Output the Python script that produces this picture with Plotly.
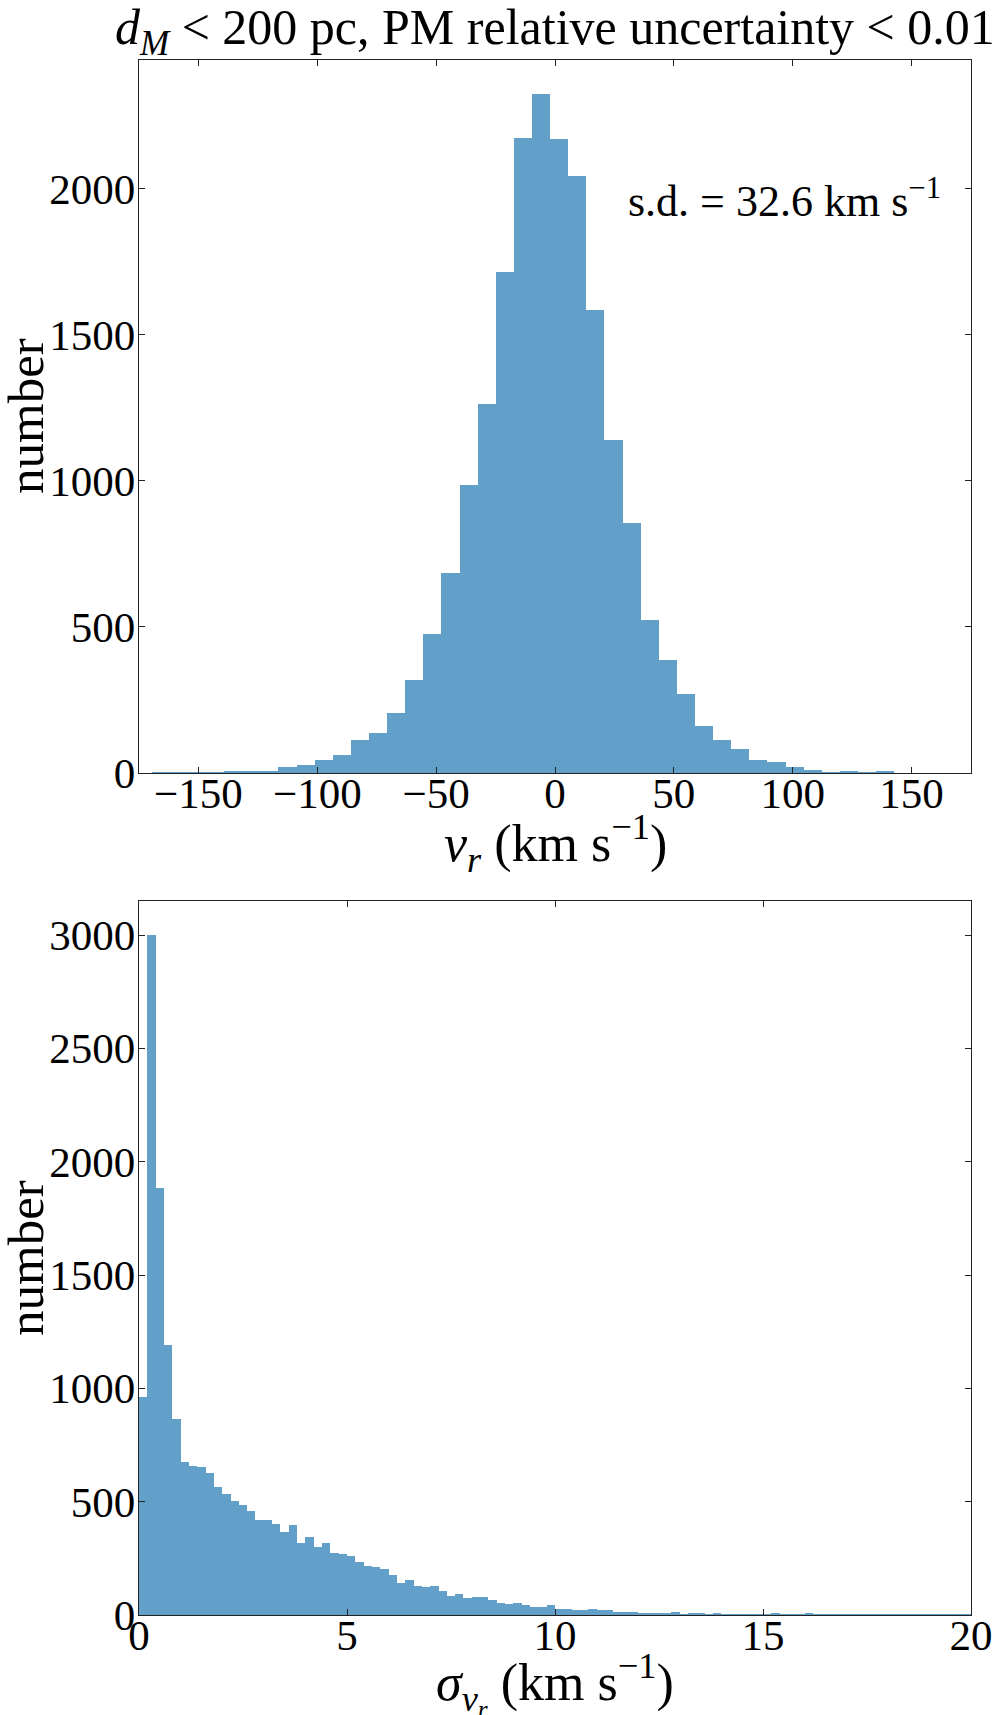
import numpy as np
import plotly.graph_objects as go

# ---------------- data ----------------
# top panel: radial velocity histogram (41 equal bins)
vr_first_edge = -169.7
vr_last_edge = 142.7
vr_counts = [3, 3, 1, 1, 7, 7, 8, 19, 29, 45, 62, 112, 137, 207, 320, 477, 686,
             985, 1265, 1716, 2175, 2325, 2171, 2043, 1585, 1139, 857, 523, 387,
             271, 162, 113, 83, 44, 37, 21, 10, 2, 4, 1, 5]
vr_xticks = [-150, -100, -50, 0, 50, 100, 150]
vr_yticks = [0, 500, 1000, 1500, 2000]
vr_sd_text = "s.d. = 32.6 km s<sup>\u22121</sup>"

# bottom panel: radial velocity uncertainty histogram (100 bins, 0..20)
sig_first_edge = 0.0
sig_last_edge = 20.0
sig_counts = [962, 3000, 1882, 1190, 863, 673, 656, 651, 625, 565,
              534, 502, 486, 457, 421, 418, 401, 365, 397, 317,
              344, 300, 317, 272, 267, 260, 236, 216, 212, 204,
              178, 142, 156, 130, 125, 130, 106, 82, 94, 75,
              79, 79, 68, 55, 50, 52, 42, 36, 34, 42,
              27, 25, 22, 21, 25, 24, 22, 15, 12, 12,
              10, 7, 6, 6, 12, 3, 5, 5, 4, 5,
              4, 2, 2, 2, 3, 1, 9, 2, 2, 3,
              5, 4, 1, 2, 4, 1, 2, 3, 3, 1,
              1, 1, 2, 1, 1, 4, 1, 1, 1, 1]
sig_xticks = [0, 5, 10, 15, 20]
sig_yticks = [0, 500, 1000, 1500, 2000, 2500, 3000]

title_text = ("<i>d</i><sub><i>M</i></sub> &lt; 200 pc, "
              "PM relative uncertainty &lt; 0.01")
vr_xlabel = "<i>v</i><sub><i>r</i></sub> (km s<sup>\u22121</sup>)"
sig_xlabel = "<i>\u03c3</i><sub><i>v</i><sub><i>r</i></sub></sub> (km s<sup>\u22121</sup>)"
ylabel = "number"

# ---------------- figure ----------------
W, H = 1000, 1715
FONT = "Liberation Serif, Times New Roman, serif"
BAR_COLOR = "rgb(98,160,202)"

vr_edges = np.linspace(vr_first_edge, vr_last_edge, len(vr_counts) + 1)
vr_centers = 0.5 * (vr_edges[:-1] + vr_edges[1:])
vr_width = vr_edges[1] - vr_edges[0]

sig_edges = np.linspace(sig_first_edge, sig_last_edge, len(sig_counts) + 1)
sig_centers = 0.5 * (sig_edges[:-1] + sig_edges[1:])
sig_width = sig_edges[1] - sig_edges[0]


def px_x(px):
    return px / W


def px_y(py):
    return (H - py) / H


fig = go.Figure()
fig.add_trace(go.Bar(x=vr_centers, y=vr_counts, width=vr_width,
                     marker=dict(color=BAR_COLOR, line=dict(width=0)),
                     xaxis="x", yaxis="y", showlegend=False, hoverinfo="x+y"))
fig.add_trace(go.Bar(x=sig_centers, y=sig_counts, width=sig_width,
                     marker=dict(color=BAR_COLOR, line=dict(width=0)),
                     xaxis="x2", yaxis="y2", showlegend=False, hoverinfo="x+y"))

axis_common = dict(showline=True, linecolor="#222", linewidth=1.3, mirror="ticks",
                   ticks="inside", ticklen=6, tickwidth=1.2, tickcolor="#222",
                   showgrid=False, zeroline=False, automargin=False,
                   tickfont=dict(family=FONT, size=43, color="black"))
xstand = dict(ticklabelstandoff=-18)
ystand = dict(ticklabelstandoff=-6)

left, right = 139, 971
fig.update_layout(
    template="none",
    width=W, height=H,
    margin=dict(l=0, r=0, t=0, b=0, pad=0),
    paper_bgcolor="white", plot_bgcolor="white",
    bargap=0, barmode="overlay", showlegend=False,
    xaxis=dict(domain=[px_x(left), px_x(right)], range=[-175, 175],
               tickvals=vr_xticks, anchor="y", **axis_common, **xstand),
    yaxis=dict(domain=[px_y(773), px_y(60)], range=[0, 1.05 * max(vr_counts)],
               tickvals=vr_yticks, anchor="x", **axis_common, **ystand),
    xaxis2=dict(domain=[px_x(left), px_x(right)], range=[0, 20],
                tickvals=sig_xticks, anchor="y2", **axis_common, **xstand),
    yaxis2=dict(domain=[px_y(1615), px_y(901)], range=[0, 1.05 * max(sig_counts)],
                tickvals=sig_yticks, anchor="x2", **axis_common, **ystand),
)

label_font = dict(family=FONT, size=52, color="black")
ylabel_font = dict(family=FONT, size=51, color="black")
annotations = [
    dict(text=title_text, x=px_x(555), y=px_y(31), xref="paper", yref="paper",
         xanchor="center", yanchor="middle", showarrow=False,
         font=dict(family=FONT, size=50, color="black")),
    dict(text=vr_xlabel, x=px_x(555), y=px_y(843), xref="paper", yref="paper",
         xanchor="center", yanchor="middle", showarrow=False, font=label_font),
    dict(text=sig_xlabel, x=px_x(555), y=px_y(1685), xref="paper", yref="paper",
         xanchor="center", yanchor="middle", showarrow=False, font=label_font),
    dict(text=ylabel, x=px_x(26), y=px_y(416), xref="paper", yref="paper",
         xanchor="center", yanchor="middle", textangle=-90, showarrow=False,
         font=ylabel_font),
    dict(text=ylabel, x=px_x(26), y=px_y(1258), xref="paper", yref="paper",
         xanchor="center", yanchor="middle", textangle=-90, showarrow=False,
         font=ylabel_font),
    dict(text=vr_sd_text, x=px_x(784), y=px_y(199), xref="paper", yref="paper",
         xanchor="center", yanchor="middle", showarrow=False,
         font=dict(family=FONT, size=44, color="black")),
]
fig.update_layout(annotations=annotations)

fig.write_html(
    "out.html",
    config={"displayModeBar": False},
    post_script="document.body.style.margin='0';document.body.style.padding='0';"
                "document.body.style.overflow='hidden';",
)
